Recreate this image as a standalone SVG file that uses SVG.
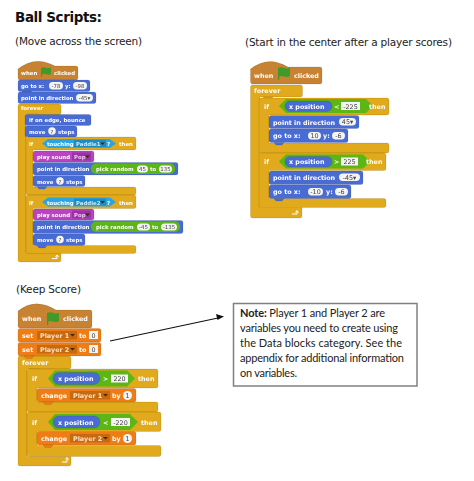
<svg xmlns="http://www.w3.org/2000/svg" width="474" height="481" viewBox="0 0 474 481">
<style>
.h{font:bold 13.5px "DejaVu Sans",sans-serif;fill:#111}
.c{font:10.5px "DejaVu Sans",sans-serif;fill:#222}
.n{font:11px "Lato",sans-serif;fill:#222}
.t{font:bold 5.4px "DejaVu Sans",sans-serif;fill:#fff}
.t2{font:bold 6.4px "DejaVu Sans",sans-serif;fill:#fff}
.i{font:5.4px "DejaVu Sans",sans-serif;fill:#444;text-anchor:middle}
.i2{font:6.4px "DejaVu Sans",sans-serif;fill:#444;text-anchor:middle}
.w{fill:#f4f4f4}
.e,.k,.m,.s,.d{stroke:#000;stroke-opacity:.16;stroke-width:.6}
.e{fill:#c88330}.k{fill:#e1a91a}.m{fill:#4a6cd4}.s{fill:#bb42c3}.o{fill:#5cb712}.x{fill:#2ca5e2}.d{fill:#ee7d16}
.de{fill:#c76a10}.ds{fill:#9a33a8}.dx{fill:#1f8cc4}
.lp{fill:#fde0c0}.lx{fill:#cdeaf8}.ls{fill:#f0c8f0}
.ar{fill:none;stroke:#fff;stroke-width:1}
.soft{filter:url(#soft)}
</style>
<defs>
<filter id="soft" x="-5%" y="-5%" width="110%" height="110%"><feGaussianBlur stdDeviation="0.3"/></filter>
<path id="bump" d="M0 0l2 2.500h6l2-2.500z"/>
<path id="flag" d="M0 10V1c3-2.500 6 1.500 10-.5v6.500c-3 2-7-1.500-9 .5v2.500z" fill="#3f9a2c"/>
<path id="tri" d="M0 0h5l-2.500 2.500z" fill="#3a2a10"/>
</defs>
<rect width="474" height="481" fill="#fff"/>
<text class="h" x="15" y="22" textLength="87">Ball Scripts:</text>
<text class="c" x="15" y="45" textLength="127">(Move across the screen)</text>
<text class="c" x="245" y="46" textLength="207">(Start in the center after a player scores)</text>
<text class="c" x="16" y="293" textLength="65">(Keep Score)</text>

<g id="script-move" class="soft">
<path class="k" d="M20 104h39q2 0 2 2v7q0 2-2 2H26v137.500h35v7.500q0 2-2 2H20q-2 0-2-2V106q0-2 2-2z"/>
<use class="k" href="#bump" x="28" y="114"/>
<path class="e" d="M18 69Q35 55 55 66H76q2 0 2 2v10q0 2-2 2H20q-2 0-2-2z"/>
<use href="#flag" transform="translate(41 67)"/>
<text class="t" x="21" y="75">when</text><text class="t" x="54" y="75">clicked</text>
<rect class="m" x="18" y="80" width="72" height="11.500" rx="2"/><use class="m" href="#bump" x="22" y="91"/>
<text class="t" x="21" y="88">go to x:</text><rect class="w" x="49" y="82" width="14" height="7.500" rx="3.700"/><text class="i" x="56" y="88">-78</text><text class="t" x="65" y="88">y:</text><rect class="w" x="73" y="82" width="14" height="7.500" rx="3.700"/><text class="i" x="80" y="88">-98</text>
<rect class="m" x="18" y="92" width="78" height="11.500" rx="2"/>
<text class="t" x="21" y="100">point in direction</text><rect class="w" x="76" y="94" width="17" height="7.500" rx="3.700"/><text class="i" x="84.500" y="100">-45▾</text>
<rect class="m" x="25" y="114.500" width="66" height="11" rx="2"/>
<text class="t" x="29" y="122">if on edge, bounce</text>
<rect class="m" x="25" y="126" width="52" height="11" rx="2"/><use class="m" href="#bump" x="31" y="137"/>
<text class="t" x="29" y="134">move</text><circle class="w" cx="52" cy="131" r="3.800"/><text class="i" x="52" y="133.500">?</text><text class="t" x="58" y="134">steps</text>
<text class="t" x="21" y="110">forever</text>
<g id="if-paddle1">
<path class="k" d="M28 137h106q2 0 2 2v9q0 2-2 2H33v37h101q2 0 2 2v4q0 2-2 2H28q-2 0-2-2v-55q0-2 2-2z"/>
<path class="x" d="M42 143.500l6-4.500h62l6 4.500-6 4.500H48z"/>
<rect class="dx" x="74" y="140" width="32" height="7"/>
<text class="t" x="29" y="146">if</text><text class="t" x="47" y="146">touching</text><text class="t lx" x="76" y="146">Paddle1</text><use href="#tri" x="100" y="142.500"/><text class="t" x="107" y="146">?</text><text class="t" x="119" y="146">then</text>
<rect class="s" x="33" y="151" width="61" height="11" rx="2"/>
<text class="t" x="37" y="159">play sound</text><rect class="ds" x="72" y="152.500" width="19" height="8"/><text class="t ls" x="74" y="159">Pop</text><use href="#tri" x="85" y="155.500"/>
<rect class="m" x="33" y="162.500" width="145" height="12.500" rx="2"/>
<text class="t" x="37" y="171">point in direction</text><rect class="o" x="91" y="163.500" width="84" height="10.500" rx="5"/><text class="t" x="96" y="171">pick random</text><rect class="w" x="137" y="165.500" width="11" height="7" rx="3.500"/><text class="i" x="142.500" y="171">45</text><text class="t" x="150" y="171">to</text><rect class="w" x="159" y="165.500" width="13" height="7" rx="3.500"/><text class="i" x="165.500" y="171">135</text>
<rect class="m" x="33" y="175.500" width="52" height="11" rx="2"/><use class="m" href="#bump" x="37" y="186.500"/>
<text class="t" x="37" y="183.500">move</text><circle class="w" cx="60" cy="181" r="3.800"/><text class="i" x="60" y="183.500">?</text><text class="t" x="66" y="183.500">steps</text>
</g>
<g id="if-paddle2">
<path class="k" d="M28 195h106q2 0 2 2v9.500q0 2-2 2H33v37h101q2 0 2 2v4q0 2-2 2H28q-2 0-2-2V197q0-2 2-2z"/>
<path class="x" d="M42 202l6-4.500h62l6 4.500-6 4.500H48z"/>
<rect class="dx" x="74" y="198.500" width="32" height="7"/>
<text class="t" x="29" y="204.500">if</text><text class="t" x="47" y="204.500">touching</text><text class="t lx" x="76" y="204.500">Paddle2</text><use href="#tri" x="100" y="201"/><text class="t" x="107" y="204.500">?</text><text class="t" x="119" y="204.500">then</text>
<rect class="s" x="33" y="209" width="61" height="11" rx="2"/>
<text class="t" x="37" y="217">play sound</text><rect class="ds" x="72" y="210.500" width="19" height="8"/><text class="t ls" x="74" y="217">Pop</text><use href="#tri" x="85" y="213.500"/>
<rect class="m" x="33" y="220.500" width="150" height="13" rx="2"/>
<text class="t" x="37" y="229">point in direction</text><rect class="o" x="91" y="221.500" width="89" height="10.500" rx="5"/><text class="t" x="96" y="229">pick random</text><rect class="w" x="137" y="223.500" width="13" height="7" rx="3.500"/><text class="i" x="143.500" y="229">-45</text><text class="t" x="152" y="229">to</text><rect class="w" x="161" y="223.500" width="16" height="7" rx="3.500"/><text class="i" x="169" y="229">-135</text>
<rect class="m" x="33" y="234" width="52" height="11.500" rx="2"/><use class="m" href="#bump" x="37" y="245.500"/>
<text class="t" x="37" y="242">move</text><circle class="w" cx="60" cy="239.500" r="3.800"/><text class="i" x="60" y="242">?</text><text class="t" x="66" y="242">steps</text>
</g>
<path class="ar" d="M52 258.500h5v-3m-1.500 1.500l1.500-2 1.500 2"/>
</g>

<g id="script-center" class="soft">
<path class="k" d="M252.500 85h48q2 0 2 2v8q0 2-2 2H260v110.500h42v8.500q0 2-2 2h-47.500q-2 0-2-2V87q0-2 2-2z"/>
<use class="k" href="#bump" x="263" y="97"/>
<path class="e" d="M250.500 69Q268 55 288 67h32q2 0 2 2v13q0 2-2 2h-67.500q-2 0-2-2z"/>
<use href="#flag" transform="translate(278 67) scale(1.200 1.300)"/>
<text class="t2" x="254" y="78">when</text><text class="t2" x="294" y="78">clicked</text>
<text class="t2" x="254" y="93">forever</text>
<path class="k" d="M261 98h126q2 0 2 2v13q0 2-2 2H269v28h118q2 0 2 2v6q0 2-2 2H261q-2 0-2-2v-51q0-2 2-2z"/>
<path class="o" d="M279 106l7-7h80l7 7-7 7h-80z"/>
<rect class="m" x="285" y="101" width="47" height="10.500" rx="5"/>
<rect class="w" x="341" y="102" width="19" height="8"/>
<text class="t2" x="264" y="108.500">if</text><text class="t2" x="289" y="108.500">x position</text><text class="t2" x="334" y="108.500">&lt;</text><text class="i2" x="350.500" y="108.500">-225</text><text class="t2" x="369" y="108.500">then</text>
<rect class="m" x="269" y="115.500" width="90" height="13" rx="2"/>
<text class="t2" x="273" y="124.500">point in direction</text><rect class="w" x="339" y="118" width="17" height="7.500" rx="3.700"/><text class="i2" x="347.500" y="124">45▾</text>
<rect class="m" x="269" y="129" width="79" height="13.500" rx="2"/><use class="m" href="#bump" x="274" y="142.500"/>
<text class="t2" x="273" y="138">go to x:</text><rect class="w" x="308" y="132" width="13" height="7.500" rx="3.700"/><text class="i2" x="314.500" y="138">10</text><text class="t2" x="323" y="138">y:</text><rect class="w" x="332" y="132" width="13" height="7.500" rx="3.700"/><text class="i2" x="338.500" y="138">-6</text>
<path class="k" d="M261 153h123q2 0 2 2v13.500q0 2-2 2H269v28h115q2 0 2 2v5q0 2-2 2H261q-2 0-2-2V155q0-2 2-2z"/>
<path class="o" d="M279 161.500l7-7h77l7 7-7 7h-77z"/>
<rect class="m" x="285" y="156.500" width="47" height="10.500" rx="5"/>
<rect class="w" x="341" y="157.500" width="17" height="8"/>
<text class="t2" x="264" y="164">if</text><text class="t2" x="289" y="164">x position</text><text class="t2" x="334" y="164">&gt;</text><text class="i2" x="349.500" y="164">225</text><text class="t2" x="366" y="164">then</text>
<rect class="m" x="269" y="171" width="94" height="13.500" rx="2"/>
<text class="t2" x="273" y="180">point in direction</text><rect class="w" x="339" y="173.500" width="21" height="7.500" rx="3.700"/><text class="i2" x="349.500" y="179.500">-45▾</text>
<rect class="m" x="269" y="185" width="82" height="13.500" rx="2"/><use class="m" href="#bump" x="274" y="198.500"/>
<text class="t2" x="273" y="194">go to x:</text><rect class="w" x="308" y="188" width="15" height="7.500" rx="3.700"/><text class="i2" x="315.500" y="194">-10</text><text class="t2" x="326" y="194">y:</text><rect class="w" x="335" y="188" width="13" height="7.500" rx="3.700"/><text class="i2" x="341.500" y="194">-6</text>
<path class="ar" d="M292 214h5v-3m-1.500 1.500l1.500-2 1.500 2"/>
</g>

<g id="script-score" class="soft">
<path class="k" d="M20 356h49q2 0 2 2v9q0 2-2 2H27v87.500h44v7.500q0 2-2 2H20q-2 0-2-2V358q0-2 2-2z"/>
<use class="k" href="#bump" x="30" y="369"/>
<path class="e" d="M18 311Q35 297 56 310h34q2 0 2 2v14q0 2-2 2H20q-2 0-2-2z"/>
<use href="#flag" transform="translate(47 312) scale(1.200 1.300)"/>
<text class="t2" x="22" y="321">when</text><text class="t2" x="63" y="321">clicked</text>
<rect class="d" x="18" y="328.500" width="83" height="13.500" rx="2"/>
<text class="t2" x="22" y="337.500">set</text><rect class="de" x="37" y="331" width="40" height="8.500"/><text class="t2 lp" x="40" y="337.500">Player 1</text><use href="#tri" x="70" y="334"/><text class="t2" x="79" y="337.500">to</text><rect class="w" x="89" y="331" width="9" height="8"/><text class="i2" x="93.500" y="337.500">0</text>
<rect class="d" x="18" y="342.500" width="83" height="13.500" rx="2"/><use class="d" href="#bump" x="24" y="356"/>
<text class="t2" x="22" y="351.500">set</text><rect class="de" x="37" y="345" width="40" height="8.500"/><text class="t2 lp" x="40" y="351.500">Player 2</text><use href="#tri" x="70" y="348"/><text class="t2" x="79" y="351.500">to</text><rect class="w" x="89" y="345" width="9" height="8"/><text class="i2" x="93.500" y="351.500">0</text>
<text class="t2" x="22" y="365">forever</text>
<path class="k" d="M29 369h127q2 0 2 2v15q0 2-2 2H37v14h119q2 0 2 2v6q0 2-2 2H29q-2 0-2-2v-39q0-2 2-2z"/>
<path class="o" d="M48 378.500l7-8h72l8 8-8 8H55z"/>
<rect class="m" x="53" y="372.500" width="47" height="12" rx="6"/>
<rect class="w" x="111" y="374.500" width="17" height="8"/>
<text class="t2" x="32" y="381">if</text><text class="t2" x="58" y="381">x position</text><text class="t2" x="103" y="381">&gt;</text><text class="i2" x="119.500" y="381">220</text><text class="t2" x="138" y="381">then</text>
<rect class="d" x="37" y="388.500" width="99" height="13.500" rx="2"/><use class="d" href="#bump" x="43" y="402"/>
<text class="t2" x="41" y="397.500">change</text><rect class="de" x="70" y="391" width="40" height="8.500"/><text class="t2 lp" x="73" y="397.500">Player 1</text><use href="#tri" x="103" y="394"/><text class="t2" x="112" y="397.500">by</text><circle class="w" cx="127.500" cy="395.500" r="4.500"/><text class="i2" x="127.500" y="397.500">1</text>
<path class="k" d="M29 412h130q2 0 2 2v15.500q0 2-2 2H37v14h122q2 0 2 2v7q0 2-2 2H29q-2 0-2-2V414q0-2 2-2z"/>
<path class="o" d="M48 422l7-8h75l8 8-8 8H55z"/>
<rect class="m" x="53" y="416" width="47" height="12" rx="6"/>
<rect class="w" x="111" y="418" width="19" height="8"/>
<text class="t2" x="32" y="424.500">if</text><text class="t2" x="58" y="424.500">x position</text><text class="t2" x="103" y="424.500">&lt;</text><text class="i2" x="120.500" y="424.500">-220</text><text class="t2" x="141" y="424.500">then</text>
<rect class="d" x="37" y="431.500" width="99" height="13.500" rx="2"/><use class="d" href="#bump" x="43" y="445"/>
<text class="t2" x="41" y="440.500">change</text><rect class="de" x="70" y="434" width="40" height="8.500"/><text class="t2 lp" x="73" y="440.500">Player 2</text><use href="#tri" x="103" y="437"/><text class="t2" x="112" y="440.500">by</text><circle class="w" cx="127.500" cy="438.500" r="4.500"/><text class="i2" x="127.500" y="440.500">1</text>
<path class="ar" d="M62 462h5v-4m-1.500 1.500l1.500-2 1.500 2"/>
</g>

<g id="note">
<rect x="233.500" y="303.500" width="183.500" height="82.500" fill="#fff" stroke="#808080" stroke-width="1.500"/>
<text class="n" x="240" y="316.500" textLength="145"><tspan font-weight="bold">Note:</tspan> Player 1 and Player 2 are</text>
<text class="n" x="240" y="331.500" textLength="158">variables you need to create using</text>
<text class="n" x="240" y="346.500" textLength="162">the Data blocks category.  See the</text>
<text class="n" x="240" y="361.500" textLength="164">appendix for additional information</text>
<text class="n" x="240" y="376.500" textLength="57">on variables.</text>
</g>

<g id="connectors">
<path d="M110 341L218 318" stroke="#111" stroke-width="1.200" fill="none"/>
<path d="M224 316.500l-8-2.500 1.500 6z" fill="#111"/>
</g>
</svg>
